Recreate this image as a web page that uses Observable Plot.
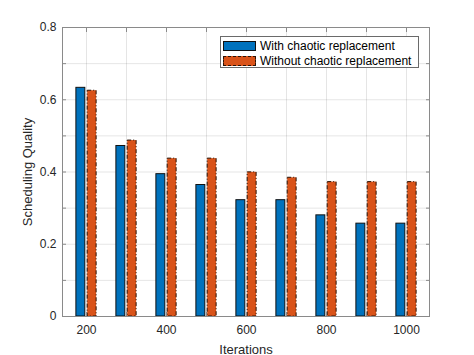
<!DOCTYPE html>
<html><head><meta charset="utf-8">
<script src="https://cdn.jsdelivr.net/npm/d3@7"></script>
<script src="https://cdn.jsdelivr.net/npm/@observablehq/plot@0.6"></script>
<style>
body{margin:0;background:#fff;font-family:"Liberation Sans",Arial,sans-serif;}
#wrap{position:relative;width:474px;height:355px;}
.legend{position:absolute;left:220px;top:36px;width:197px;height:30px;border:1px solid #6a6a6a;background:#fff;font-size:12px;color:#000;box-sizing:content-box;}
.legend .row{position:absolute;left:2px;height:12px;display:flex;align-items:center;white-space:nowrap;}
.legend .sw{width:33px;height:10px;margin-right:4px;box-sizing:border-box;}
</style></head><body><div id="wrap"></div>
<script>
const iterations = [200, 300, 400, 500, 600, 700, 800, 900, 1000];
const withChaotic = [0.633, 0.472, 0.394, 0.364, 0.322, 0.322, 0.280, 0.257, 0.257];
const withoutChaotic = [0.625, 0.487, 0.437, 0.437, 0.399, 0.384, 0.372, 0.372, 0.372];
const seriesNames = ["With chaotic replacement", "Without chaotic replacement"];
const seriesColors = ["#0072BD", "#D95319"];
const yTickLabels = [0, 0.2, 0.4, 0.6, 0.8];
const yMinorTicks = [0, 0.1, 0.2, 0.3, 0.4, 0.5, 0.6, 0.7, 0.8];
const xTickLabels = [200, 400, 600, 800, 1000];

const W = 474, H = 355, mL = 62, mR = 45, mT = 27, mB = 39;
const bw = (W - mL - mR) / iterations.length;

const dataWith = iterations.map((it, i) => ({iteration: it, value: withChaotic[i]}));
const dataWithout = iterations.map((it, i) => ({iteration: it, value: withoutChaotic[i]}));

const font = '"Liberation Sans", Arial, sans-serif';
const chart = Plot.plot({
  width: W, height: H,
  marginLeft: mL, marginRight: mR, marginTop: mT, marginBottom: mB,
  style: {fontFamily: font, fontSize: "12px", color: "#262626", background: "#fff"},
  x: {type: "band", domain: iterations, padding: 0, axis: null},
  y: {domain: [0, 0.8], axis: null},
  marks: [
    Plot.gridY({ticks: yMinorTicks, stroke: "#000", strokeOpacity: 0.1}),
    Plot.gridX({ticks: iterations, stroke: "#000", strokeOpacity: 0.1}),
    Plot.barY(dataWith, {x: "iteration", y: "value", fill: seriesColors[0], stroke: "#111", strokeWidth: 1,
      insetLeft: bw / 2 - 10.5, insetRight: bw / 2 + 0.8}),
    Plot.barY(dataWithout, {x: "iteration", y: "value", fill: seriesColors[1], stroke: "#2a1205", strokeWidth: 1,
      strokeDasharray: "4,2,1,2", insetLeft: bw / 2 + 0.8, insetRight: bw / 2 - 10.5}),
    Plot.frame({stroke: "#8a8a8a"}),
    Plot.axisX({anchor: "bottom", ticks: iterations, tickSize: -4, tickFormat: () => "", label: null, stroke: "#8a8a8a"}),
    Plot.axisX({anchor: "top", ticks: iterations, tickSize: -4, tickFormat: () => "", label: null, stroke: "#8a8a8a"}),
    Plot.axisY({anchor: "left", ticks: yMinorTicks, tickSize: -4, tickFormat: () => "", label: null, stroke: "#8a8a8a"}),
    Plot.axisY({anchor: "right", ticks: yMinorTicks, tickSize: -4, tickFormat: () => "", label: null, stroke: "#8a8a8a"}),
    Plot.axisX({anchor: "bottom", ticks: xTickLabels, tickSize: 0, tickPadding: 9, fontSize: 12,
      tickFormat: d => String(d),
      label: "Iterations", labelAnchor: "center", labelArrow: "none", labelOffset: 37}),
    Plot.axisY({anchor: "left", ticks: yTickLabels, tickSize: 0, tickPadding: 6, fontSize: 12,
      tickFormat: d => String(d),
      label: "Scheduling Quality", labelAnchor: "center", labelArrow: "none", labelOffset: 40})
  ]
});
const wrap = document.getElementById("wrap");
wrap.appendChild(chart);
d3.select(chart).selectAll("[aria-label$='axis label'] text").attr("font-size", 13);

const legend = document.createElement("div");
legend.className = "legend";
seriesNames.forEach((name, i) => {
  const row = document.createElement("div");
  row.className = "row";
  row.style.top = (i === 0 ? 3 : 18) + "px";
  const sw = document.createElement("div");
  sw.className = "sw";
  sw.style.background = seriesColors[i];
  sw.style.border = i === 0 ? "1px solid #111" : "1px dashed #2a1205";
  row.appendChild(sw);
  const t = document.createElement("span");
  t.textContent = name;
  row.appendChild(t);
  legend.appendChild(row);
});
wrap.appendChild(legend);
</script>
</body></html>
